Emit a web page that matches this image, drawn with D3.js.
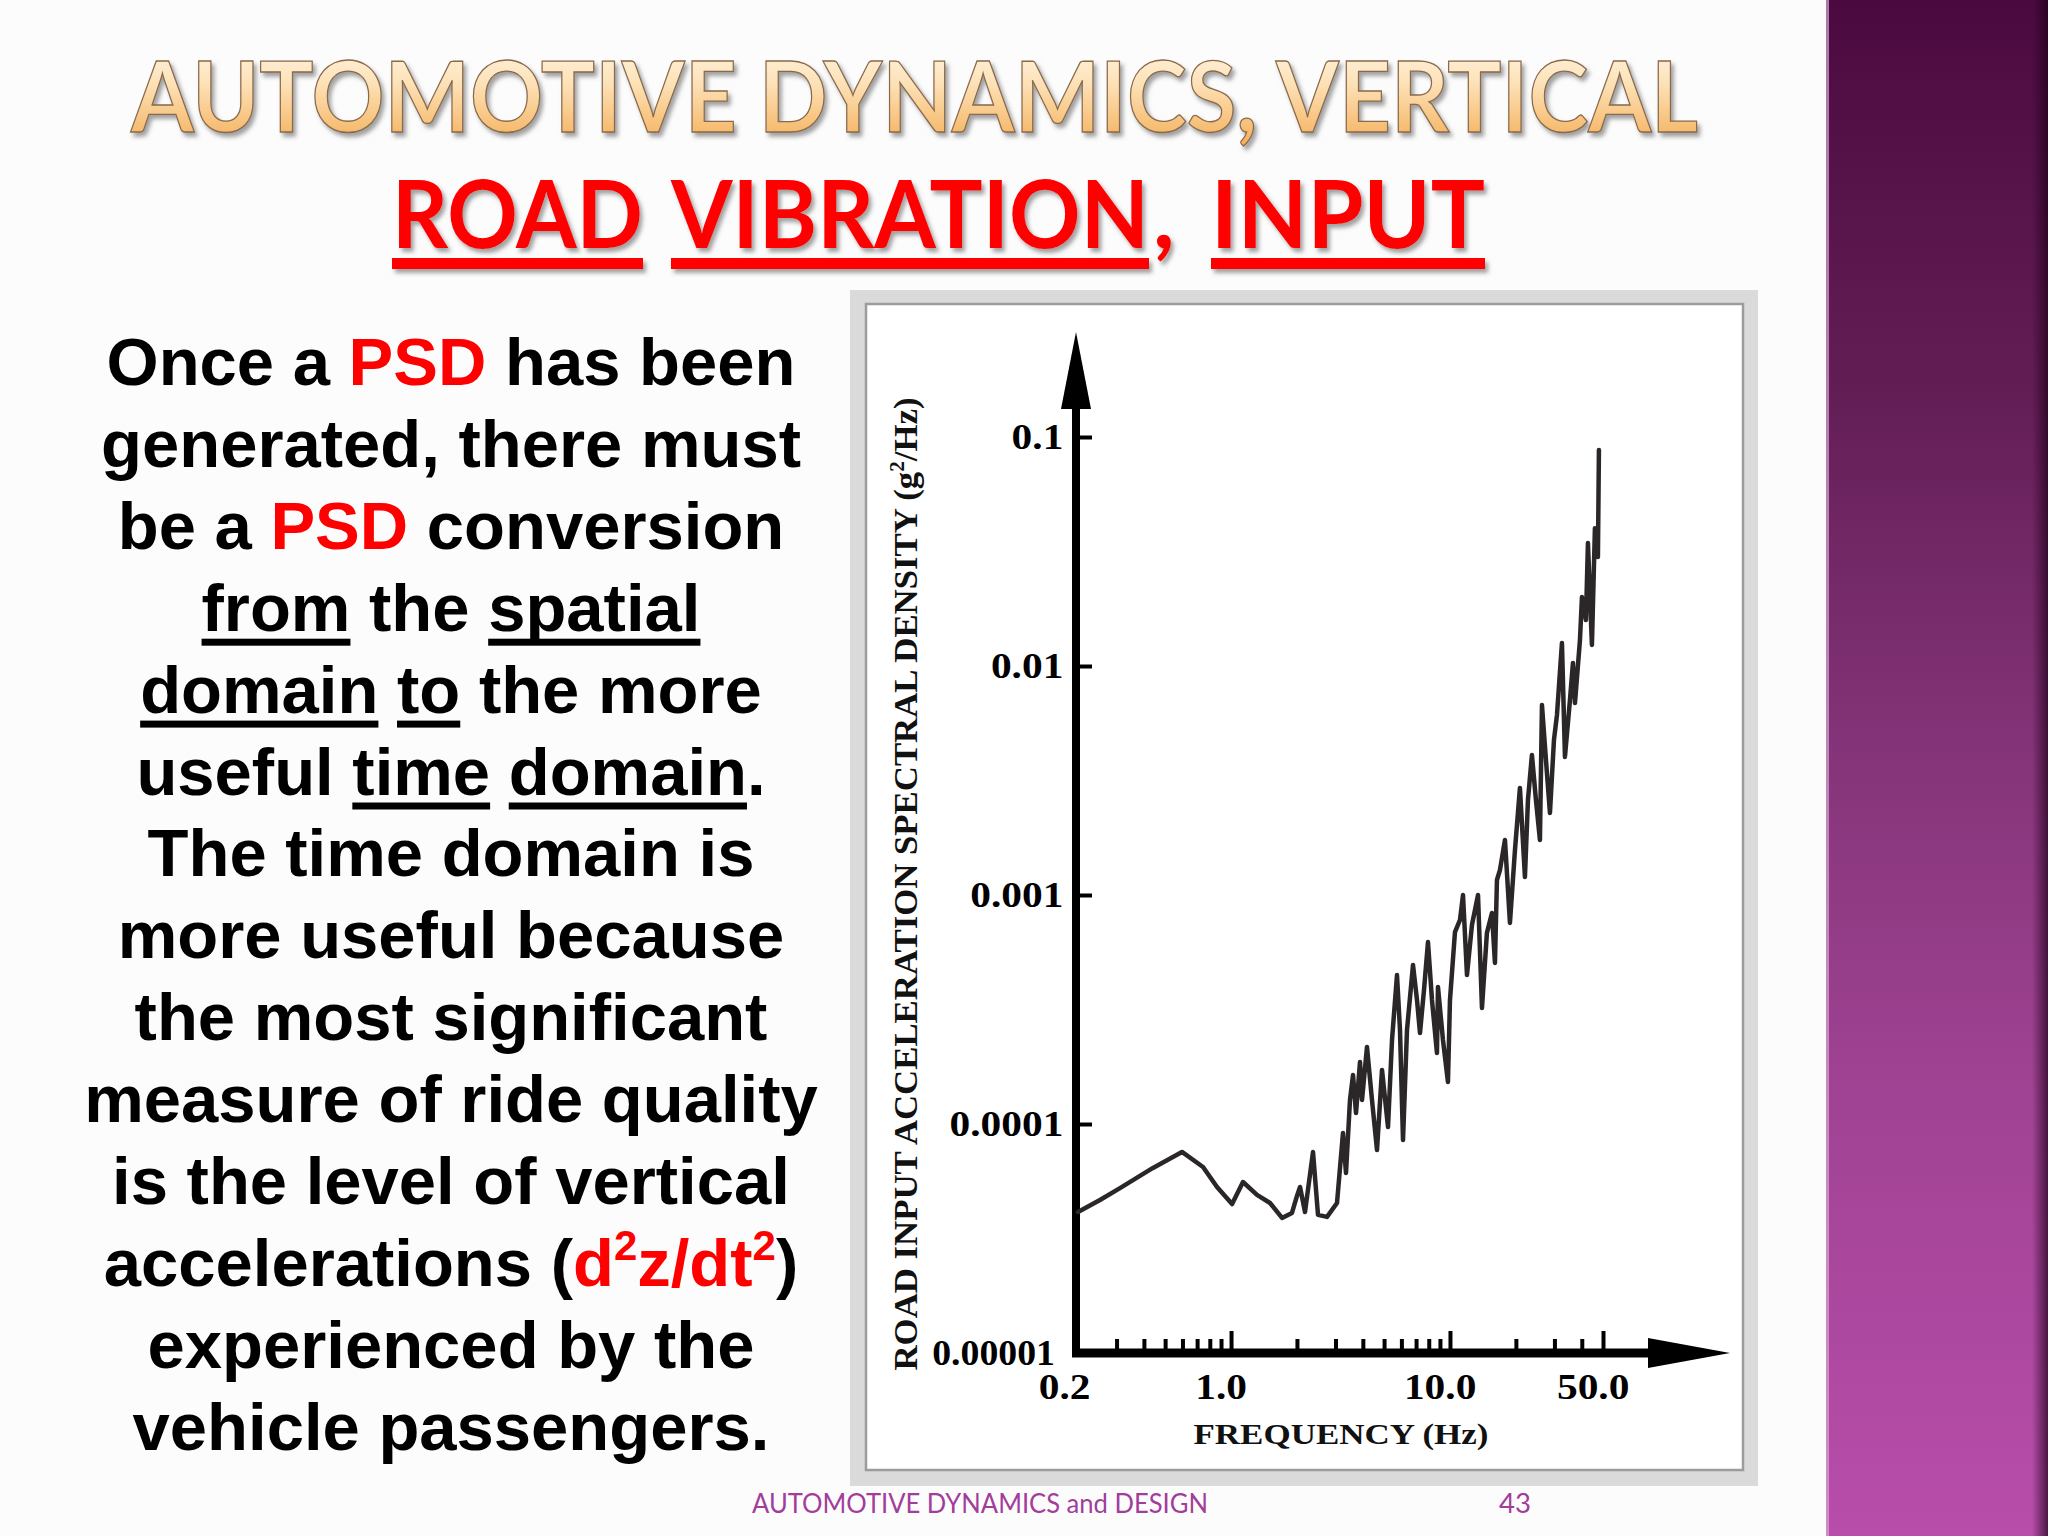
<!DOCTYPE html>
<html>
<head>
<meta charset="utf-8">
<script src="https://cdn.jsdelivr.net/npm/d3@7"></script>
<style>
  html, body { margin: 0; padding: 0; background: #fdfcfd; }
  svg { display: block; }
</style>
</head>
<body>
<svg id="slide" width="2048" height="1536"></svg>
<script>
// road input PSD trace (Hz, g^2/Hz)
const freq = [0.2, 0.252, 0.311, 0.44, 0.597, 0.745, 0.863, 1.011, 1.134, 1.314,
  1.507, 1.71, 1.898, 2.001, 2.066, 2.177, 2.368, 2.496, 2.744, 3.048,
  3.246, 3.351, 3.494, 3.607, 3.722, 3.882, 3.965, 4.178, 4.404, 4.642,
  4.893, 5.212, 5.436, 5.728, 5.912, 6.102, 6.364, 6.779, 7.07, 7.295,
  7.61, 7.935, 8.276, 8.721, 8.815, 9.29, 9.79, 10.0, 10.54, 11.11,
  11.47, 11.96, 12.6, 13.43, 14.0, 14.75, 15.55, 16.05, 16.39, 16.92,
  17.83, 18.79, 19.81, 20.87, 22.0, 22.71, 23.68, 24.7, 25.76, 26.31,
  27.44, 28.62, 29.85, 30.81, 32.47, 33.51, 35.32, 36.45, 37.23, 39.24,
  40.07, 41.78, 42.67, 44.5, 45.93, 47.4, 47.9];
const psd = [4.13e-5, 4.66e-5, 5.25e-5, 6.43e-5, 7.55e-5, 6.49e-5, 5.31e-5, 4.47e-5, 5.58e-5, 4.90e-5,
  4.52e-5, 3.89e-5, 4.09e-5, 4.85e-5, 5.31e-5, 4.13e-5, 7.55e-5, 4.01e-5, 3.93e-5, 4.52e-5,
  9.14e-5, 6.11e-5, 1.273e-4, 1.637e-4, 1.117e-4, 1.865e-4, 1.273e-4, 2.169e-4, 1.273e-4, 7.70e-5,
  1.721e-4, 9.70e-5, 2.327e-4, 4.47e-4, 2.574e-4, 8.51e-5, 2.574e-4, 4.95e-4, 3.48e-4, 2.497e-4,
  3.85e-4, 6.23e-4, 3.48e-4, 2.042e-4, 3.97e-4, 2.327e-4, 1.526e-4, 3.48e-4, 6.89e-4, 7.78e-4,
  1.0e-3, 4.47e-4, 7.40e-4, 1.0e-3, 3.21e-4, 6.83e-4, 8.34e-4, 5.05e-4, 1.163e-3, 1.286e-3,
  1.739e-3, 7.55e-4, 1.572e-3, 2.933e-3, 1.198e-3, 2.599e-3, 4.09e-3, 2.599e-3, 1.739e-3, 6.76e-3,
  3.89e-3, 2.281e-3, 4.75e-3, 6.11e-3, 1.26e-2, 4.01e-3, 7.10e-3, 1.031e-2, 6.89e-3, 1.299e-2,
  2.001e-2, 1.588e-2, 3.444e-2, 1.235e-2, 4.0e-2, 2.99e-2, 8.77e-2];

const xMinorTicks = [0.3, 0.4, 0.5, 0.6, 0.7, 0.8, 0.9, 2, 3, 4, 5, 6, 7, 8, 9, 20, 30, 40];
const xMajorTicks = [1, 10, 50];
const xLabelValues = [0.2, 1, 10, 50];
const xTickLabels = ["0.2", "1.0", "10.0", "50.0"];
const yTickValues = [1e-5, 1e-4, 1e-3, 1e-2, 1e-1];
const yTickLabels = ["0.00001", "0.0001", "0.001", "0.01", "0.1"];

const titleLine1 = "AUTOMOTIVE DYNAMICS, VERTICAL";
const titleWords2 = ["ROAD", "VIBRATION", "INPUT"];
const footerText = "AUTOMOTIVE DYNAMICS and DESIGN";
const pageNumber = "43";

// body text: [text, style]  style: "" plain, "red", "u" underline, "sup" red superscript
const bodyLines = [
  [["Once a ", ""], ["PSD", "red"], [" has been", ""]],
  [["generated, there must", ""]],
  [["be a ", ""], ["PSD", "red"], [" conversion", ""]],
  [["from", "u"], [" the ", ""], ["spatial", "u"]],
  [["domain", "u"], [" ", ""], ["to", "u"], [" the more", ""]],
  [["useful ", ""], ["time", "u"], [" ", ""], ["domain", "u"], [".", ""]],
  [["The time domain is", ""]],
  [["more useful because", ""]],
  [["the most significant", ""]],
  [["measure of ride quality", ""]],
  [["is the level of vertical", ""]],
  [["accelerations (", ""], ["d", "red"], ["2", "sup"], ["z/dt", "red"], ["2", "sup"], [")", ""]],
  [["experienced by the", ""]],
  [["vehicle passengers.", ""]]
];

const svg = d3.select("#slide");
const defs = svg.append("defs");

// background
svg.append("rect").attr("width", 2048).attr("height", 1536).attr("fill", "#fdfcfd");

// purple side band
const band = defs.append("linearGradient").attr("id", "band").attr("x1", 0).attr("y1", 0).attr("x2", 0).attr("y2", 1);
[[0, "#4b0a3f"], [0.25, "#621d55"], [0.5, "#86357a"], [0.72, "#a14394"], [1, "#b84daa"]]
  .forEach(([o, c]) => band.append("stop").attr("offset", o).attr("stop-color", c));
const edge = defs.append("linearGradient").attr("id", "edge").attr("x1", 0).attr("y1", 0).attr("x2", 1).attr("y2", 0);
edge.append("stop").attr("offset", 0).attr("stop-color", "#1e0019").attr("stop-opacity", 0);
edge.append("stop").attr("offset", 1).attr("stop-color", "#1e0019").attr("stop-opacity", 0.7);
svg.append("rect").attr("x", 1826).attr("y", 0).attr("width", 222).attr("height", 1536).attr("fill", "url(#band)");
svg.append("rect").attr("x", 2032).attr("y", 0).attr("width", 16).attr("height", 1536).attr("fill", "url(#edge)");
svg.append("rect").attr("x", 1826).attr("y", 0).attr("width", 3).attr("height", 1536).attr("fill", "#d9a6d4").attr("opacity", 0.7);

// drop shadow for the titles
const shadow = defs.append("filter").attr("id", "shadow").attr("x", "-5%").attr("y", "-20%").attr("width", "110%").attr("height", "150%");
shadow.append("feDropShadow").attr("dx", 3).attr("dy", 4).attr("stdDeviation", 2)
  .attr("flood-color", "#555").attr("flood-opacity", 0.55);

// title line 1 (orange gradient, outlined)
const tg = defs.append("linearGradient").attr("id", "titleGrad").attr("x1", 0).attr("y1", 0).attr("x2", 0).attr("y2", 1);
[[0, "#fff7ea"], [0.4, "#fde2b8"], [1, "#f3a94e"]]
  .forEach(([o, c]) => tg.append("stop").attr("offset", o).attr("stop-color", c));

const titleFont = "Lato, 'Open Sans', sans-serif";
svg.append("text")
  .attr("x", 131).attr("y", 132)
  .attr("textLength", 1567).attr("lengthAdjust", "spacingAndGlyphs")
  .attr("font-family", titleFont)
  .attr("font-weight", 700).attr("font-size", 97)
  .attr("fill", "url(#titleGrad)").attr("stroke", "#8a6a4c").attr("stroke-width", 1.3)
  .attr("filter", "url(#shadow)")
  .text(titleLine1);

// title line 2 (red, underlined words, comma after VIBRATION only)
const t2 = svg.append("g").attr("filter", "url(#shadow)")
  .attr("font-family", titleFont)
  .attr("font-weight", 700).attr("font-size", 93).attr("fill", "#ff0000");
const wordBoxes = [[392, 251], [671, 478], [1211, 274]];
titleWords2.forEach((w, i) => {
  const [wx, wl] = wordBoxes[i];
  t2.append("text").attr("x", wx).attr("y", 248)
    .attr("textLength", wl).attr("lengthAdjust", "spacingAndGlyphs").text(w);
  t2.append("rect").attr("x", wx).attr("y", 258).attr("width", wl).attr("height", 11);
  if (w === "VIBRATION")
    t2.append("text").attr("x", wx + wl + 4).attr("y", 248).text(",");
});

// body text
const body = svg.append("g")
  .attr("font-family", "'Liberation Sans', Arial, sans-serif")
  .attr("font-weight", 700).attr("font-size", 67).attr("fill", "#000");
const underlines = [];
bodyLines.forEach((segs, i) => {
  const by = 385 + i * 81.9;
  const t = body.append("text").attr("x", 451).attr("y", by).attr("text-anchor", "middle");
  let raised = false;
  segs.forEach(([s, style]) => {
    const sp = t.append("tspan").text(s);
    if (style === "red") sp.attr("fill", "#ff0000");
    if (style === "sup") {
      sp.attr("fill", "#ff0000").attr("font-size", 42).attr("dy", -26);
      raised = true;
    } else if (raised) {
      sp.attr("dy", 26);
      raised = false;
    }
    if (style === "u") underlines.push([sp.node(), by]);
  });
});
underlines.forEach(([n, by]) => {
  const sx = n.getStartPositionOfChar(0).x;
  const len = n.getComputedTextLength();
  body.append("rect").attr("x", sx).attr("y", by + 8).attr("width", len).attr("height", 7);
});

// chart frame
svg.append("rect").attr("x", 850).attr("y", 290).attr("width", 908).attr("height", 1196)
  .attr("fill", "#dadada");
svg.append("rect").attr("x", 866).attr("y", 304).attr("width", 877).attr("height", 1166)
  .attr("fill", "#ffffff").attr("stroke", "#9c9c9c").attr("stroke-width", 2.5);

// scales
const x = d3.scaleLog().domain([0.2, 50]).range([1078, 1603]);
const y = d3.scaleLog().domain([1e-5, 0.1]).range([1353, 437]);
const x0 = x.range()[0] - 2, y0 = y.range()[0];

const chart = svg.append("g");
const serif = "'Liberation Serif', 'Times New Roman', serif";

// x axis ticks + labels
const xAxis = d3.axisBottom(x)
  .tickValues([...xLabelValues, ...xMinorTicks].sort((a, b) => a - b))
  .tickSize(-14).tickPadding(20)
  .tickFormat(d => { const k = xLabelValues.indexOf(d); return k < 0 ? "" : xTickLabels[k]; });
const gx = chart.append("g").attr("transform", `translate(0,${y0})`).call(xAxis);
gx.select(".domain").remove();
gx.selectAll(".tick line").attr("stroke", "#000").attr("stroke-width", 4)
  .attr("y2", d => d === 0.2 ? 0 : xMajorTicks.includes(d) ? -22 : -14);
gx.selectAll(".tick text").attr("fill", "#000").attr("font-family", serif)
  .attr("font-weight", 700).attr("font-size", 36)
  .attr("x", d => d === 0.2 ? -12 : -9)
  .attr("transform", "scale(1.15,1)");

// y axis ticks + labels
const yAxis = d3.axisLeft(y).tickValues(yTickValues)
  .tickSize(-16).tickPadding(11)
  .tickFormat((d, i) => yTickLabels[i]);
const gy = chart.append("g").attr("transform", `translate(${x0},0)`).call(yAxis);
gy.select(".domain").remove();
gy.selectAll(".tick line").attr("stroke", "#000").attr("stroke-width", 4)
  .attr("x2", d => d === 1e-5 ? 0 : 16);
gy.selectAll(".tick text").attr("fill", "#000").attr("font-family", serif)
  .attr("font-weight", 700).attr("font-size", 36)
  .attr("x", d => d === 1e-5 ? -20 : -11)
  .attr("transform", d => d === 1e-5 ? "scale(1.05,1)" : "scale(1.15,1)");

// axis lines with arrow heads
const yTop = y.range()[1] - 28, yTip = y.range()[1] - 105;
const xEnd = x.range()[1] + 45, xTip = x.range()[1] + 127;
chart.append("line").attr("x1", x0).attr("x2", x0).attr("y1", y0 + 4).attr("y2", yTop)
  .attr("stroke", "#000").attr("stroke-width", 8);
chart.append("path").attr("fill", "#000")
  .attr("d", `M${x0},${yTip} L${x0 - 15},${yTop} L${x0 + 15},${yTop} Z`);
chart.append("line").attr("x1", x0 - 4).attr("x2", xEnd).attr("y1", y0).attr("y2", y0)
  .attr("stroke", "#000").attr("stroke-width", 9);
chart.append("path").attr("fill", "#000")
  .attr("d", `M${xTip},${y0} L${xEnd},${y0 - 15} L${xEnd},${y0 + 15} Z`);

// PSD trace
const line = d3.line().x(d => x(d[0])).y(d => y(d[1]));
chart.append("path")
  .datum(freq.map((f, i) => [f, psd[i]]))
  .attr("d", line)
  .attr("fill", "none").attr("stroke", "#2b2627").attr("stroke-width", 4.5)
  .attr("stroke-linejoin", "round").attr("stroke-linecap", "round");

// axis titles
const yl = chart.append("text")
  .attr("transform", "translate(917,884) rotate(-90)")
  .attr("text-anchor", "middle").attr("textLength", 973).attr("lengthAdjust", "spacingAndGlyphs")
  .attr("font-family", serif).attr("font-weight", 700).attr("font-size", 33).attr("fill", "#111");
yl.append("tspan").text("ROAD INPUT ACCELERATION SPECTRAL DENSITY (g");
yl.append("tspan").attr("font-size", 20).attr("dy", -13).text("2");
yl.append("tspan").attr("dy", 13).text("/Hz)");

chart.append("text").attr("x", 1341).attr("y", 1444)
  .attr("text-anchor", "middle").attr("textLength", 295).attr("lengthAdjust", "spacingAndGlyphs")
  .attr("font-family", serif).attr("font-weight", 700).attr("font-size", 30).attr("fill", "#111")
  .text("FREQUENCY (Hz)");

// footer
svg.append("text").attr("x", 752).attr("y", 1513)
  .attr("textLength", 456).attr("lengthAdjust", "spacingAndGlyphs")
  .attr("font-family", "Lato, 'Open Sans', sans-serif").attr("font-size", 26).attr("fill", "#a23d9b")
  .text(footerText);
svg.append("text").attr("x", 1499).attr("y", 1513)
  .attr("textLength", 32).attr("lengthAdjust", "spacingAndGlyphs")
  .attr("font-family", "Lato, 'Open Sans', sans-serif").attr("font-size", 26).attr("fill", "#a23d9b")
  .text(pageNumber);
</script>
</body>
</html>
